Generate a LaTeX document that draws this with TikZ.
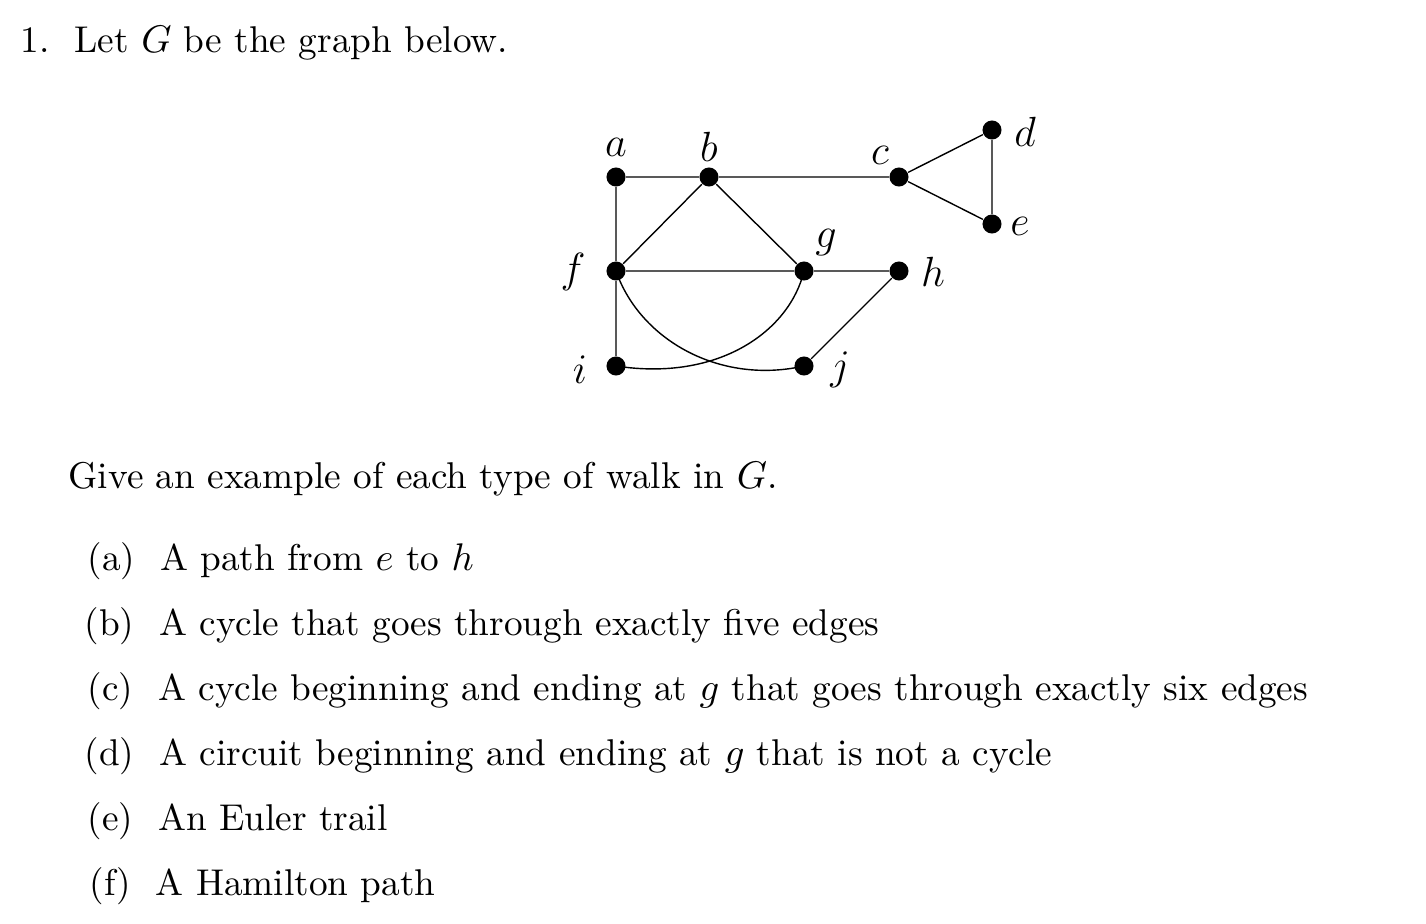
\documentclass[tikz,border=0pt]{standalone}
\begin{document}
\begin{tikzpicture}[x=0.01cm,y=-0.01cm,
  vtx/.style={circle,fill=black,inner sep=0pt,minimum size=0.19cm},
  lbl/.style={font=\fontsize{12}{14}\selectfont},
  txt/.style={anchor=base west,inner sep=0pt,font=\fontsize{10.6}{13}\selectfont}]
\useasboundingbox (0,0) rectangle (1426,924);
\node[vtx] (a) at (616,177) {};
\node[vtx] (b) at (709,177) {};
\node[vtx] (c) at (899,177) {};
\node[vtx] (d) at (992,130) {};
\node[vtx] (e) at (992,224) {};
\node[vtx] (f) at (616,271) {};
\node[vtx] (g) at (804,271) {};
\node[vtx] (h) at (899,271) {};
\node[vtx] (i) at (616,366) {};
\node[vtx] (j) at (804,366) {};
\draw (a)--(b) (b)--(c) (c)--(d) (c)--(e) (d)--(e) (a)--(f) (f)--(b) (b)--(g) (f)--(g) (g)--(h) (f)--(i) (h)--(j);
\draw (i.center) .. controls (720,382) and (790,330) .. (g.center);
\draw (f.center) .. controls (640,340) and (720,385) .. (j.center);
\node[lbl] (la) at (616,147) {$a$};
\node[lbl] (lb) at (709,147) {$b$};
\node[lbl] (lc) at (880,155) {$c$};
\node[lbl] (ld) at (1025,132) {$d$};
\node[lbl] (le) at (1020,226) {$e$};
\node[lbl] (lf) at (573,272) {$f$};
\node[lbl] (lg) at (826,243) {$g$};
\node[lbl] (lh) at (933,272) {$h$};
\node[lbl] (li) at (580,370) {$i$};
\node[lbl] (lj) at (840,370) {$j$};
\node[txt] (t0) at (20,52) {1.\ \ Let $G$ be the graph below.};
\node[txt] (t1) at (68,488) {Give an example of each type of walk in $G$.};
\node[txt] (qa) at (87,570) {(a)\ \ A path from $e$ to $h$};
\node[txt] (qb) at (84,635) {(b)\ \ A cycle that goes through exactly five edges};
\node[txt] (qc) at (87,700) {(c)\ \ A cycle beginning and ending at $g$ that goes through exactly six edges};
\node[txt] (qd) at (84,765) {(d)\ \ A circuit beginning and ending at $g$ that is not a cycle};
\node[txt] (qe) at (87,830) {(e)\ \ An Euler trail};
\node[txt] (qf) at (89,895) {(f)\ \ A Hamilton path};
\end{tikzpicture}
\end{document}
